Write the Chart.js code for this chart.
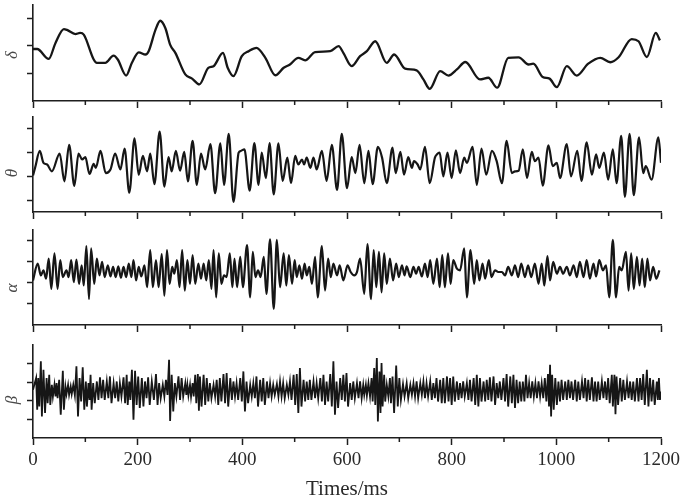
<!DOCTYPE html>
<html><head><meta charset="utf-8">
<script src="https://cdn.jsdelivr.net/npm/chart.js@4.4.1/dist/chart.umd.min.js"></script>
<style>
html,body{margin:0;padding:0;background:#fff;}
#wrap{position:relative;width:685px;height:500px;overflow:hidden;background:#fff;}
canvas{position:absolute;left:0;}
</style></head><body>
<div id="wrap">
<canvas id="c0" width="685" height="113" style="top:0px;width:685px;height:113px"></canvas>
<canvas id="c1" width="685" height="113" style="top:113px;width:685px;height:113px"></canvas>
<canvas id="c2" width="685" height="114" style="top:226px;width:685px;height:114px"></canvas>
<canvas id="c3" width="685" height="160" style="top:340px;width:685px;height:160px"></canvas>
</div>
<script>
// ---- data (time in ms, amplitude in arbitrary units) ----
const xTickLabels = [0, 200, 400, 600, 800, 1000, 1200];
const rhythmLabels = ['δ', 'θ', 'α', 'β'];

const deltaT = [0,8,30,43,59,65,81,90,97,116,122,138,154,162,178,189,202,215,221,234,243,253,262,272,291,304,318,335,345,363,372,383,399,412,427,444,463,479,491,507,520,539,568,584,593,609,625,638,654,676,690,711,733,746,758,778,794,810,826,854,870,887,908,928,947,956,974,987,1001,1020,1039,1061,1084,1103,1119,1144,1157,1173,1190,1198];
const deltaV = [-0.12,-0.12,-0.48,0.10,0.60,0.57,0.42,0.46,0.40,-0.50,-0.62,-0.62,-0.36,-0.50,-1.08,-0.62,-0.24,-0.32,-0.20,0.57,0.90,0.63,0.04,-0.26,-1.04,-1.19,-1.40,-0.80,-0.74,-0.26,-0.80,-1.10,-0.38,-0.20,-0.08,-0.44,-1.07,-0.80,-0.68,-0.44,-0.53,-0.23,-0.20,-0.02,-0.26,-0.74,-0.38,-0.20,0.16,-0.62,-0.32,-0.83,-0.89,-1.22,-1.56,-0.92,-1.08,-0.86,-0.59,-1.22,-1.16,-1.52,-0.44,-0.42,-0.68,-0.65,-1.13,-1.19,-1.50,-0.74,-1.08,-0.65,-0.44,-0.60,-0.42,0.24,0.16,-0.41,0.46,0.19];

const thetaT = [0,4,13,20,27,36,51,60,69,79,87,94,100,108,116,120,129,139,148,157,167,175,184,194,202,210,218,224,232,242,251,259,265,273,281,289,296,305,313,321,329,339,348,358,365,374,383,393,397,404,414,423,431,437,445,452,460,469,477,486,493,501,507,514,518,523,530,536,542,552,561,571,581,590,600,609,616,624,633,641,649,659,667,676,687,693,702,709,717,724,728,735,740,749,758,768,772,777,784,792,800,808,816,824,829,840,848,857,866,877,886,896,905,915,921,928,936,944,953,959,966,974,985,993,1001,1007,1020,1028,1040,1048,1058,1068,1076,1082,1091,1099,1108,1115,1124,1131,1140,1148,1158,1166,1171,1182,1195,1200];
const thetaV = [0.04,0.36,1.07,0.57,0.50,0.21,0.96,-0.21,1.33,-0.40,0.96,0.71,0.81,0.10,0.53,0.36,1.07,0.14,0.29,0.96,0.29,1.17,-0.69,1.60,0.07,0.86,0.21,0.96,-0.33,1.89,-0.43,0.81,0.21,1.07,0.24,1.03,-0.21,1.50,-0.36,0.96,0.29,1.36,-0.71,1.39,-0.36,1.79,-1.07,1.00,1.07,1.14,-0.60,1.40,-0.36,1.00,-0.07,1.40,-0.76,1.39,-0.19,0.79,-0.29,0.86,0.50,0.71,0.50,0.79,0.36,0.79,0.29,1.07,-0.19,1.33,-0.57,1.79,-0.50,0.81,0.14,1.33,-0.29,1.07,-0.33,1.24,0.79,-0.29,1.21,0.14,1.03,0.07,0.81,0.36,0.64,0.50,0.29,1.24,-0.29,0.79,0.93,1.00,0.00,1.00,-0.07,1.10,0.14,0.79,0.57,1.24,-0.36,1.17,0.07,1.07,0.64,-0.29,1.50,0.14,0.21,0.24,1.14,-0.07,1.03,0.64,0.79,-0.39,1.31,0.43,0.57,-0.07,1.36,0.00,1.07,-0.19,1.43,0.07,0.93,0.36,1.00,-0.14,1.14,-0.29,1.71,-0.86,1.79,-0.79,1.64,0.14,0.43,-0.14,1.64,0.57];

const alphaT = [0,9,15,20,25,30,35,41,47,52,57,64,68,73,78,83,88,93,97,102,107,111,117,122,127,132,137,143,148,153,158,163,168,173,178,183,188,192,197,202,207,213,218,224,229,235,240,246,251,256,261,266,270,275,280,285,290,295,300,305,310,316,321,326,331,336,341,345,350,355,360,365,370,376,381,385,390,396,401,409,415,420,425,430,435,441,446,453,460,466,472,479,484,489,495,500,504,509,514,519,523,528,533,539,544,552,558,564,569,574,581,586,593,601,607,614,619,625,633,639,646,651,656,661,666,671,676,682,688,694,699,705,710,714,721,727,732,737,743,749,754,759,765,772,777,782,787,793,798,803,810,816,824,829,836,843,848,853,859,864,871,876,883,889,896,902,908,915,921,927,933,940,946,952,959,966,972,977,983,988,994,1001,1007,1013,1020,1026,1033,1039,1045,1052,1058,1064,1071,1076,1082,1089,1095,1101,1108,1114,1120,1125,1133,1138,1143,1148,1154,1159,1164,1169,1174,1179,1185,1191,1197];
const alphaV = [0.11,0.91,0.35,0.59,0.19,1.15,-0.29,1.39,-0.29,1.07,0.27,0.59,0.27,1.07,0.03,1.10,-0.05,0.83,-0.13,1.74,-0.77,1.63,-0.05,1.15,0.35,0.99,0.27,0.83,0.30,0.75,0.27,0.78,0.24,0.75,0.27,0.91,0.27,1.07,0.11,0.75,0.30,0.83,-0.21,1.55,-0.21,1.07,-0.21,1.36,-0.61,1.55,-0.05,0.75,0.43,1.07,-0.21,1.55,-0.37,1.07,-0.05,1.31,-0.05,0.91,0.19,0.91,0.11,1.07,-0.29,1.55,-0.69,1.39,-0.05,0.35,0.27,1.39,-0.21,1.15,-0.21,1.23,-0.21,1.79,-0.69,1.47,0.27,0.59,0.27,1.23,-0.53,2.06,-1.24,2.03,-0.21,1.39,-0.13,1.31,-0.05,1.07,0.27,0.83,0.19,0.91,0.35,0.75,-0.05,1.23,-0.69,1.74,-0.37,1.15,0.27,0.91,0.35,0.83,0.11,0.83,0.51,0.35,0.51,1.15,-0.53,1.83,-0.77,1.55,-0.21,1.47,-0.45,1.39,-0.05,1.15,0.11,0.91,0.27,0.83,0.35,0.78,0.27,0.75,0.43,0.75,0.30,0.91,0.27,1.07,-0.05,1.15,-0.21,1.31,-0.21,1.39,-0.05,1.07,0.67,0.59,1.63,-0.69,1.55,-0.05,1.07,0.11,0.91,0.19,1.07,0.27,0.59,0.51,0.51,0.35,0.75,0.35,0.83,0.27,0.91,0.27,0.83,0.27,0.91,-0.05,0.91,-0.13,1.26,0.11,0.99,0.43,0.75,0.43,0.75,0.35,0.83,0.27,0.99,0.27,1.07,0.19,0.91,0.30,1.07,0.59,0.83,-0.69,2.03,-0.69,0.75,0.59,1.47,-0.37,1.39,-0.29,1.23,-0.13,1.15,-0.21,1.15,0.11,0.75,0.19,0.59];

const betaT = [
 0, 6,8, 10,12, 15,17, 20,23, 26,28, 31,33, 36,38, 41,43, 45,47,
 50,53, 57,59, 62,64, 67,69, 72,74, 77,80, 83,86, 89,92, 95,98, 101,103,
 106,108, 110,112, 115,118, 122,125, 128,131, 134,137, 141,144, 147,150, 154,157, 160,163,
 166,169, 173,176, 179,181, 184,186, 189,192, 195,198, 201,204, 208,211, 214,217, 220,223,
 227,231, 235,238, 241,244, 248,251, 254,257, 260,262, 265,268, 271,274, 278,281, 284,287,
 291,293, 295,297, 300,302, 305,307, 310,312, 315,317, 319,322, 326,329, 332,335, 338,341,
 345,348, 351,354, 357,360, 364,367, 370,373, 377,380, 383,386, 389,392, 396,399, 402,405,
 408,411, 415,418, 421,424, 427,430, 434,437, 440,443, 447,450, 453,456, 459,462, 466,469,
 472,475, 478,481, 485,488, 491,494, 498,501, 504,507, 510,513, 517,520, 523,526, 529,532,
 536,539, 542,545, 549,552, 555,558, 561,564, 568,571, 574,577, 580,583, 587,590, 593,596,
 599,602, 606,609, 612,615, 619,622, 625,628, 631,633, 636,638, 641,644, 647,649, 652,654,
 657,659, 662,664, 666,668, 671,673, 676,679, 682,684, 687,690, 694,697, 700,703, 707,710,
 714,717, 721,724, 727,730, 733,736, 740,743, 746,749, 752,755, 759,762, 765,768, 771,774,
 778,781, 784,787, 791,794, 797,800, 803,806, 810,813, 816,819, 822,825, 829,832, 835,838,
 842,845, 848,851, 854,857, 861,864, 867,870, 873,876, 880,883, 886,889, 892,895, 899,902,
 905,908, 912,915, 918,921, 924,927, 930,933, 936,939, 942,945, 948,951, 954,957, 960,963,
 966,969, 972,975, 978,981, 984,986, 988,990, 992,995, 998,1001, 1004,1007, 1010,1013, 1017,1020,
 1023,1026, 1029,1032, 1036,1039, 1042,1045, 1049,1052, 1055,1058, 1061,1064, 1068,1071, 1074,1077, 1080,1083,
 1087,1090, 1093,1096, 1099,1102, 1106,1108, 1111,1113, 1115,1118, 1122,1125, 1128,1131, 1135,1138, 1141,1144,
 1147,1150, 1154,1157, 1160,1163, 1166,1169, 1173,1176, 1179,1182, 1185,1188, 1192,1194, 1196,1198, 1200];
const betaV = [
 0.59, 1.22,-0.48, 1.22,-0.31, 2.12,-0.84, 1.67,-0.66, 1.22,-0.13, 1.40,-0.22, 0.86,0.23, 0.86,0.23, 0.95,0.14,
 1.13,-0.75, 1.62,-0.48, 0.77,0.36, 0.86,0.32, 0.77,0.36, 0.86,0.29, 1.85,-0.84, 1.22,-0.04, 1.80,-0.48, 1.04,-0.31,
 0.95,0.05, 1.40,-0.48, 0.95,-0.13, 1.04,0.05, 1.26,0.14, 1.13,0.05, 1.04,0.14, 1.31,-0.13, 0.95,0.14, 1.04,-0.04,
 0.95,0.23, 1.26,-0.13, 1.40,-0.22, 1.04,0.05, 1.67,-1.02, 1.62,-0.22, 1.31,-0.39, 1.22,-0.31, 1.04,0.14, 1.26,-0.22,
 1.04,0.05, 1.44,-0.22, 0.95,0.14, 0.86,0.23, 1.13,0.32, 2.21,-1.08, 1.40,-0.57, 0.95,0.23, 1.31,0.05, 1.22,0.23,
 0.95,0.32, 0.86,0.29, 0.86,0.23, 0.95,0.23, 1.40,-0.13, 1.44,-0.54, 1.31,-0.31, 1.40,-0.22, 1.22,-0.04, 0.95,0.14,
 0.86,0.23, 1.13,-0.22, 1.22,-0.04, 1.44,-0.13, 1.49,-0.31, 1.22,0.05, 1.04,0.23, 0.95,0.05, 1.22,-0.04, 1.58,-0.57,
 1.04,-0.13, 0.86,0.23, 0.95,0.14, 1.31,-0.31, 1.13,-0.04, 1.22,-0.22, 1.04,0.14, 0.95,0.23, 0.86,0.32, 0.90,0.23,
 1.04,0.23, 0.95,0.14, 0.86,0.32, 1.04,0.05, 1.40,-0.22, 1.44,-0.66, 1.76,-0.31, 1.13,-0.04, 1.04,0.05, 1.13,0.05,
 1.04,0.14, 0.95,0.14, 1.22,-0.04, 1.40,-0.22, 1.04,-0.04, 1.44,-0.31, 2.12,-0.75, 1.04,-0.39, 1.22,0.05, 1.40,-0.04,
 1.49,-0.31, 0.95,0.05, 1.04,0.14, 0.95,0.14, 1.04,0.14, 0.86,0.32, 0.86,0.29, 0.95,0.23, 1.22,-0.04, 1.76,-0.22,
 2.30,-1.11, 1.58,-0.66, 2.03,-0.31, 1.40,-0.04, 0.86,0.23, 1.22,-0.13, 1.31,-0.66, 1.90,-0.31, 1.22,0.05, 0.90,0.23,
 0.95,0.14, 0.86,0.32, 0.95,0.23, 1.04,0.14, 0.95,0.32, 1.04,0.14, 0.95,0.23, 1.04,0.05, 0.95,0.14, 1.22,-0.04,
 1.13,-0.13, 1.22,-0.13, 1.31,-0.04, 1.22,-0.22, 1.31,-0.04, 1.04,0.05, 0.95,0.14, 1.04,0.23, 0.95,0.05, 1.13,-0.04,
 1.22,-0.22, 1.40,-0.31, 1.22,-0.04, 1.04,-0.04, 1.13,0.05, 1.26,-0.04, 1.31,-0.22, 0.95,0.14, 1.04,0.05, 1.22,-0.04,
 1.44,-0.31, 1.31,-0.13, 1.40,-0.39, 1.13,-0.13, 1.04,-0.04, 1.04,-0.04, 1.40,0.14, 0.95,0.14, 1.04,0.23, 0.95,0.14,
 1.04,0.23, 0.95,0.14, 1.22,-0.04, 1.44,-0.31, 1.94,-0.84, 1.40,-0.48, 1.22,-0.22, 1.04,-0.04, 1.13,0.05, 1.04,0.05,
 1.13,0.14, 1.04,0.05, 1.13,-0.04, 1.04,0.05, 1.04,0.14, 1.22,-0.04, 1.13,0.05, 1.26,-0.04, 1.04,-0.04, 1.04,0.05,
 1.04,0.14, 1.04,0.05, 1.22,-0.13, 1.40,-0.31, 1.40,-0.72, 1.31,-0.22, 1.22,-0.04, 1.13,0.05, 1.04,0.14, 1.04,0.05,
 1.04,-0.04, 1.22,-0.04, 1.22,0.05, 1.44,-0.22, 1.67,-0.31, 1.22,-0.04, 1.13,-0.22, 1.04,0.05, 1.22,0.05, 0.50];

// y-axis tick values of each panel
const deltaTicks = [-1, 0, 1];
const thetaTicks = [-1, 0, 1, 2];
const alphaTicks = [-1, 0, 1, 2];
const betaTicks = [-1, 0, 1, 2];

// ---- styling / layout ----
const SERIF = "'Liberation Serif','Times New Roman','DejaVu Serif',serif";
const AXIS = '#1e1e1e';
const LINE = '#161616';

const minorTicks = {
  id: 'minorTicks',
  afterDraw(chart) {
    const xs = chart.scales.x, ctx = chart.ctx;
    ctx.save();
    ctx.strokeStyle = AXIS; ctx.lineWidth = 1.5;
    xs.ticks.forEach(t => {
      if (!xTickLabels.includes(t.value)) {
        const px = xs.getPixelForValue(t.value);
        ctx.beginPath(); ctx.moveTo(px, xs.top); ctx.lineTo(px, xs.top + 4); ctx.stroke();
      }
    });
    ctx.restore();
  }
};

const panels = [
  {id:'c0', label:rhythmLabels[0] + ' ', t:deltaT, v:deltaV, yMin:-2, yMax:1.47, ticks:deltaTicks, padTop:5, xH:12, showX:false, smooth:true, lw:2.3},
  {id:'c1', label:rhythmLabels[1] + '    ', t:thetaT, v:thetaV, yMin:-1.5, yMax:2.5, ticks:thetaTicks, padTop:4, xH:14, showX:false, smooth:true, lw:2.2},
  {id:'c2', label:rhythmLabels[2] + '     ', t:alphaT, v:alphaV, yMin:-2, yMax:2.5, ticks:alphaTicks, padTop:4, xH:15, showX:false, smooth:true, lw:2.2},
  {id:'c3', label:rhythmLabels[3] + '    ', t:betaT, v:betaV, yMin:-2, yMax:3, ticks:betaTicks, padTop:5, xH:62, showX:true, smooth:false, lw:1.8}
];

panels.forEach(p => {
  const pts = p.t.map((x, i) => ({x: x, y: p.v[i]}));
  new Chart(document.getElementById(p.id), {
    type: 'line',
    data: {datasets: [{
      data: pts, borderColor: LINE, borderWidth: p.lw, pointRadius: 0, fill: false,
      tension: p.smooth ? 0.4 : 0, cubicInterpolationMode: p.smooth ? 'monotone' : 'default'
    }]},
    options: {
      responsive: false, animation: false, events: [],
      layout: {padding: {top: p.padTop, right: 24, left: 0, bottom: 0}},
      plugins: {legend: {display: false}, tooltip: {enabled: false}, title: {display: false}},
      scales: {
        x: {
          type: 'linear', min: 0, max: 1200,
          afterFit(s) { s.height = p.xH; },
          ticks: {display: p.showX, stepSize: 100, autoSkip: false, maxRotation: 0, padding: 4,
                  color: '#2a2a2a', font: {size: 19, family: SERIF},
                  callback: v => xTickLabels.includes(v) ? String(v) : ''},
          grid: {display: true, drawOnChartArea: false, drawTicks: true, tickLength: 7, tickWidth: 1.5,
                 tickColor: c => (c.tick && xTickLabels.includes(c.tick.value)) ? AXIS : 'rgba(0,0,0,0)'},
          border: {display: true, color: AXIS, width: 1.6},
          title: {display: p.showX, text: 'Times/ms', color: '#2a2a2a',
                  font: {size: 21, family: SERIF, lineHeight: 1}, padding: {top: 0, bottom: 0}}
        },
        y: {
          min: p.yMin, max: p.yMax,
          afterFit(s) { s.width = 33; },
          afterBuildTicks(s) { s.ticks = p.ticks.map(v => ({value: v})); },
          ticks: {display: false},
          grid: {display: true, drawOnChartArea: false, drawTicks: true, tickLength: 6, tickWidth: 1.5, tickColor: AXIS},
          border: {display: true, color: AXIS, width: 1.6},
          title: {display: true, text: p.label, color: '#4a4a4a',
                  font: {size: 17, style: 'italic', family: SERIF, lineHeight: 1.2}, padding: {top: 2, bottom: 0}}
        }
      }
    },
    plugins: [minorTicks]
  });
});
</script>
</body></html>
